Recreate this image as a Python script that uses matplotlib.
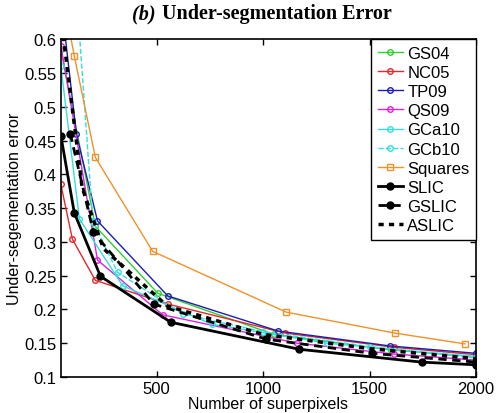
import matplotlib
matplotlib.use('Agg')
import matplotlib.pyplot as plt

# data (x = number of superpixels, y = under-segmentation error)
gs04_x = [50, 212, 505, 1050, 1600, 2000]
gs04_y = [0.585, 0.323, 0.224, 0.163, 0.140, 0.130]

nc05_x = [50, 104, 212, 552, 1104, 1613, 2000]
nc05_y = [0.385, 0.304, 0.243, 0.208, 0.165, 0.144, 0.133]

tp09_x = [50, 123, 222, 552, 1070, 1594, 2000]
tp09_y = [0.66, 0.459, 0.331, 0.220, 0.168, 0.146, 0.135]

qs09_x = [50, 222, 528, 1160, 1613, 2000]
qs09_y = [0.59, 0.273, 0.192, 0.150, 0.134, 0.125]

gca10_x = [50, 137, 340, 760, 1300, 2000]
gca10_y = [0.56, 0.334, 0.235, 0.178, 0.150, 0.130]

gcb10_x = [130, 200, 316, 623, 1000, 1500, 2000]
gcb10_y = [0.64, 0.33, 0.255, 0.193, 0.167, 0.145, 0.128]

squares_x = [50, 113, 212, 481, 1108, 1618, 1948]
squares_y = [0.68, 0.575, 0.425, 0.286, 0.196, 0.165, 0.149]

slic_x = [50, 113, 236, 566, 1170, 1745, 2000]
slic_y = [0.457, 0.343, 0.249, 0.181, 0.141, 0.122, 0.118]

gslic_x = [94, 203, 486, 1014, 1509, 2000]
gslic_y = [0.46, 0.314, 0.208, 0.156, 0.135, 0.122]

aslic_x = [55, 150, 250, 550, 1000, 1500, 2000]
aslic_y = [0.62, 0.38, 0.29, 0.205, 0.163, 0.142, 0.127]

fig = plt.figure(figsize=(4.99, 4.14), dpi=100)
ax = fig.add_axes([0.122, 0.087, 0.832, 0.816])

thin = dict(lw=1.0, marker='o', ms=4, mfc='none', mew=1.0)
ax.plot(gs04_x, gs04_y, color='#33cc33', label='GS04', **thin)
ax.plot(nc05_x, nc05_y, color='#e8262c', label='NC05', **thin)
ax.plot(tp09_x, tp09_y, color='#1c1cb4', label='TP09', **thin)
ax.plot(qs09_x, qs09_y, color='#e020e0', label='QS09', **thin)
ax.plot(gca10_x, gca10_y, color='#33dede', label='GCa10', **thin)
ax.plot(gcb10_x, gcb10_y, color='#33dede', ls='--', label='GCb10', **thin)
ax.plot(squares_x, squares_y, color='#f0922a', lw=1.0, marker='s', ms=4,
        mfc='none', mew=1.0, label='Squares')
ax.plot(slic_x, slic_y, color='black', lw=2.0, marker='o', ms=5, label='SLIC')
ax.plot(gslic_x, gslic_y, color='black', lw=2.0, ls='--', dashes=(3, 2),
        marker='o', ms=5, label='GSLIC')
ax.plot(aslic_x, aslic_y, color='black', lw=2.5, ls='--', dashes=(1.5, 1.5),
        label='ASLIC')

ax.set_xlim(50, 2000)
ax.set_ylim(0.1, 0.6)
ax.set_xticks([500, 1000, 1500, 2000])
ax.set_xticklabels(['500', '1000', '1500', '2000'])
yt = [0.1, 0.15, 0.2, 0.25, 0.3, 0.35, 0.4, 0.45, 0.5, 0.55, 0.6]
ax.set_yticks(yt)
ax.set_yticklabels(['0.1', '0.15', '0.2', '0.25', '0.3', '0.35', '0.4',
                    '0.45', '0.5', '0.55', '0.6'])
ax.tick_params(direction='in', top=True, right=True, labelsize=12,
               length=4, width=1, pad=3)
for t in ax.get_xticklabels() + ax.get_yticklabels():
    t.set_family('Liberation Sans')
for s in ax.spines.values():
    s.set_linewidth(1.2)

ax.set_xlabel('Number of superpixels', fontsize=11.5, family='Liberation Sans',
              labelpad=0)
ax.set_ylabel('Under-segementation error', fontsize=11.5,
              family='Liberation Sans', labelpad=2)

# title in two pieces: italic "(b)" then the rest
fig.text(0.265, 0.965, '(b)', ha='left', va='center', fontsize=14.5,
         family='Liberation Serif', fontweight='bold', style='italic')
fig.text(0.325, 0.965, 'Under-segmentation Error', ha='left', va='center',
         fontsize=14.5, family='Liberation Serif', fontweight='bold')

leg = ax.legend(loc='upper right', handlelength=1.5,
                handletextpad=0.25, labelspacing=0.25, borderpad=0.4,
                borderaxespad=0, fancybox=False, framealpha=1,
                edgecolor='black', prop={'family': 'Liberation Sans', 'size': 12})
leg.get_frame().set_linewidth(1.0)

fig.savefig('out.png', dpi=100)
